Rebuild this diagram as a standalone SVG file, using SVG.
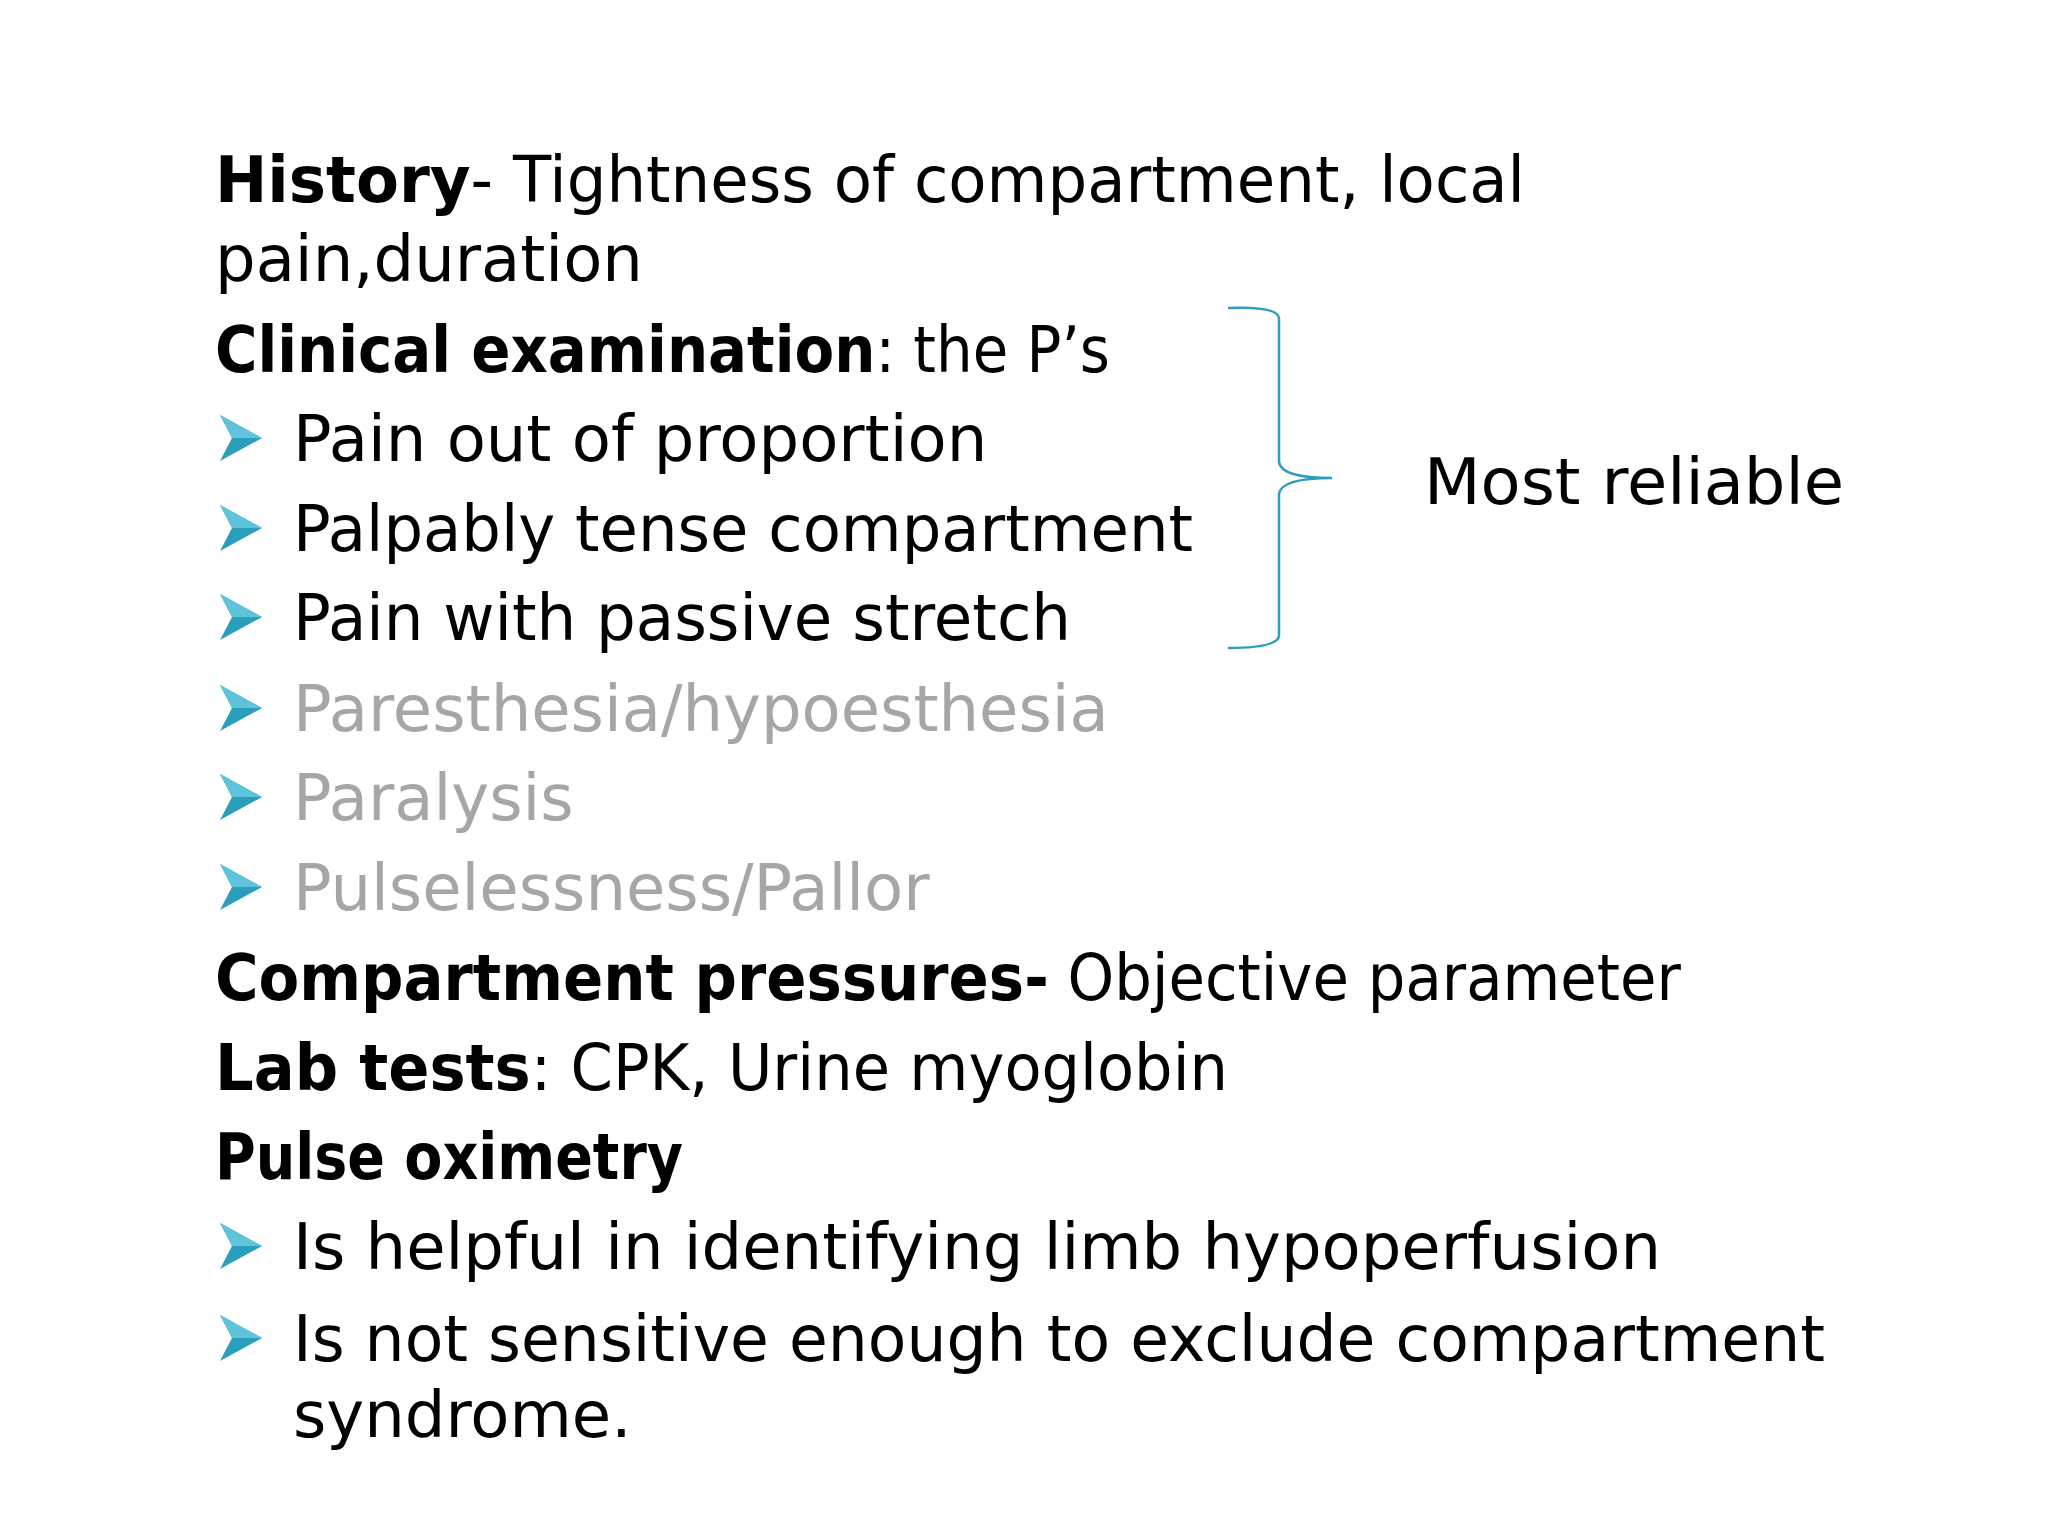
<svg xmlns="http://www.w3.org/2000/svg" width="2048" height="1536" viewBox="0 0 2048 1536">
<defs>
<style>
text{font-family:"DejaVu Sans",Verdana,sans-serif;font-size:64px;fill:#000}
.b{font-weight:bold}
.g{fill:#a6a6a6}
</style>
<symbol id="arr" viewBox="0 0 42 46" overflow="visible">
<polygon points="0,0 42,23 0,46 12,23" fill="#2a9fbc"/>
<polygon points="0,0 42,23 12,23" fill="#5fc3dc"/>
</symbol>
</defs>
<rect width="2048" height="1536" fill="#fff"/>
<g id="text">
<text x="215" y="202" textLength="1310" lengthAdjust="spacingAndGlyphs"><tspan class="b">History</tspan>- Tightness of compartment, local</text>
<text x="215" y="281">pain,duration</text>
<text x="215" y="372" textLength="895" lengthAdjust="spacingAndGlyphs"><tspan class="b">Clinical examination</tspan>: the P’s</text>
<text x="293" y="461">Pain out of proportion</text>
<text x="293" y="551" textLength="900" lengthAdjust="spacingAndGlyphs">Palpably tense compartment</text>
<text x="293" y="640" textLength="778" lengthAdjust="spacingAndGlyphs">Pain with passive stretch</text>
<text x="293" y="731" class="g">Paresthesia/hypoesthesia</text>
<text x="293" y="820" class="g">Paralysis</text>
<text x="293" y="910" class="g">Pulselessness/Pallor</text>
<text x="215" y="1000" textLength="1466" lengthAdjust="spacingAndGlyphs"><tspan class="b">Compartment pressures-</tspan> Objective parameter</text>
<text x="215" y="1090" textLength="1013" lengthAdjust="spacingAndGlyphs"><tspan class="b">Lab tests</tspan>: CPK, Urine myoglobin</text>
<text x="215" y="1179" class="b" textLength="468" lengthAdjust="spacingAndGlyphs">Pulse oximetry</text>
<text x="293" y="1269">Is helpful in identifying limb hypoperfusion</text>
<text x="293" y="1361" textLength="1532" lengthAdjust="spacingAndGlyphs">Is not sensitive enough to exclude compartment</text>
<text x="293" y="1437">syndrome.</text>
<text x="1424" y="504" textLength="420" lengthAdjust="spacingAndGlyphs">Most reliable</text>
</g>
<g id="bullets">
<use href="#arr" x="220" y="415" width="42" height="46"/>
<use href="#arr" x="220" y="505" width="42" height="46"/>
<use href="#arr" x="220" y="594" width="42" height="46"/>
<use href="#arr" x="220" y="685" width="42" height="46"/>
<use href="#arr" x="220" y="774" width="42" height="46"/>
<use href="#arr" x="220" y="864" width="42" height="46"/>
<use href="#arr" x="220" y="1223" width="42" height="46"/>
<use href="#arr" x="220" y="1315" width="42" height="46"/>
</g>
<g id="connectors">
<path d="M1228,308 Q1277,306 1279,318 L1279,462 Q1281,478 1332,478 Q1281,478 1279,494 L1279,636 Q1277,648 1228,648" fill="none" stroke="#2a9fbc" stroke-width="2.5"/>
</g>
</svg>
